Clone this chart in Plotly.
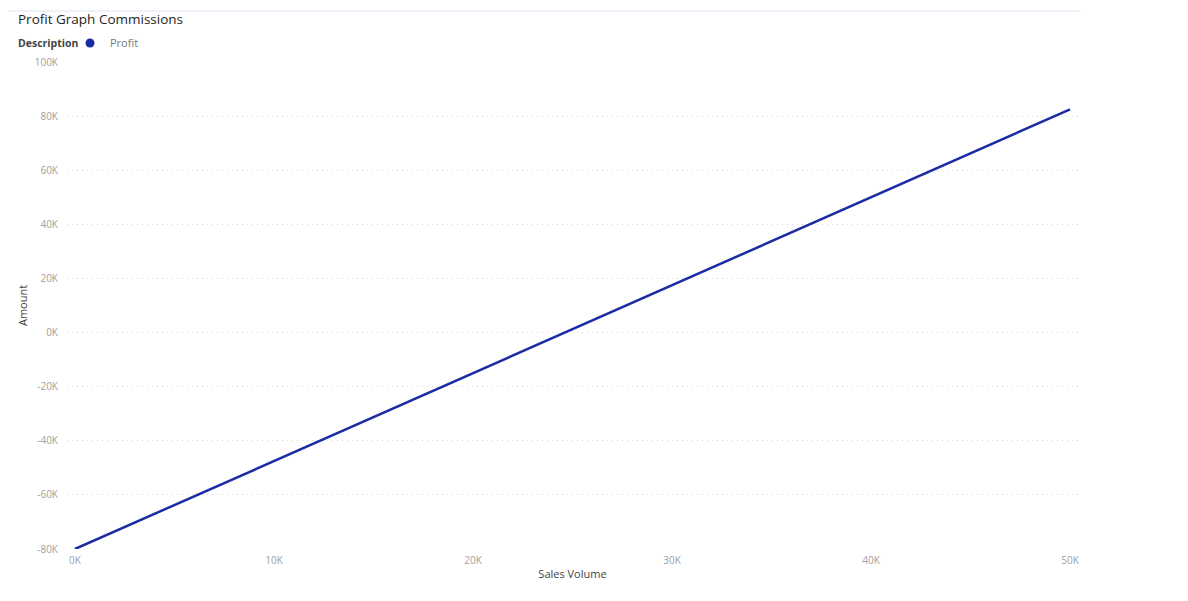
import plotly.graph_objects as go

# Data (sales volume vs profit)
sales_volume = [0, 5000, 10000, 15000, 20000, 25000, 30000, 35000, 40000, 45000, 50000]
profit = [-80000, -63750, -47500, -31250, -15000, 1250, 17500, 33750, 50000, 66250, 82500]

x_tickvals = [0, 10000, 20000, 30000, 40000, 50000]
x_ticktext = ['0K', '10K', '20K', '30K', '40K', '50K']
y_tickvals = [-80000, -60000, -40000, -20000, 0, 20000, 40000, 60000, 80000, 100000]
y_ticktext = ['-80K', '-60K', '-40K', '-20K', '0K', '20K', '40K', '60K', '80K', '100K']

# the page has an 8px body margin, so the figure is a bit smaller than the window
W, H = 1172, 585
FONT = 'Segoe UI, Open Sans, sans-serif'
LINE_COLOR = '#1a2ca3'

fig = go.Figure()
fig.add_trace(go.Scatter(
    x=sales_volume, y=profit, mode='lines', name='Profit', showlegend=False,
    line=dict(color=LINE_COLOR, width=2.5),
))
# legend entry drawn as a dot, like the Power BI legend
fig.add_trace(go.Scatter(
    x=[None], y=[None], mode='markers', name='Profit',
    marker=dict(color=LINE_COLOR, size=9),
))

# thin header line above the title
fig.add_shape(type='line', xref='paper', yref='paper',
              x0=-59 / 1011, x1=1014 / 1011, y0=1 + 51 / 487, y1=1 + 51 / 487,
              line=dict(color='#dfe5f4', width=1))

# legend title
fig.add_annotation(text='<b>Description</b>', xref='paper', yref='paper',
                   x=-51 / 1011, y=1 + 19 / 487, xanchor='left', yanchor='middle',
                   showarrow=False, font=dict(size=10.5, color='#444'))

fig.update_layout(
    width=W, height=H,
    paper_bgcolor='white', plot_bgcolor='white',
    margin=dict(l=59, r=102, t=54, b=44, autoexpand=False),
    font=dict(family=FONT, color='#605e5c'),
    title=dict(text='Profit Graph Commissions', xref='container', yref='container',
               x=10 / W, y=1 - 11 / H, xanchor='left', yanchor='middle', automargin=False,
               font=dict(size=13.5, color='#252423')),
    showlegend=True,
    legend=dict(orientation='h', xref='container', yref='container',
                x=62 / W, y=1 - 35 / H, xanchor='left', yanchor='middle',
                font=dict(size=11, color='#777'),
                itemwidth=30,
                bgcolor='rgba(0,0,0,0)'),
    xaxis=dict(range=[-400, 50400], tickvals=x_tickvals, ticktext=x_ticktext,
               showgrid=False, zeroline=False, showline=False, ticks='', automargin=False,
               ticklabelstandoff=4,
               tickfont=dict(size=10, color='#a0a0a0'),
               title=dict(text='Sales Volume', font=dict(size=11, color='#444'), standoff=4)),
    yaxis=dict(range=[-80000, 100000], tickvals=y_tickvals, ticktext=y_ticktext,
               showgrid=True, gridcolor='#d8d8d8', griddash='1px,4px', gridwidth=1,
               zeroline=False, showline=False, ticks='', automargin=False,
               ticklabelstandoff=8,
               tickfont=dict(size=10, color='#a0a0a0'),
               title=dict(text='Amount', font=dict(size=11, color='#444'), standoff=4)),
)

fig.write_html('out.html')
